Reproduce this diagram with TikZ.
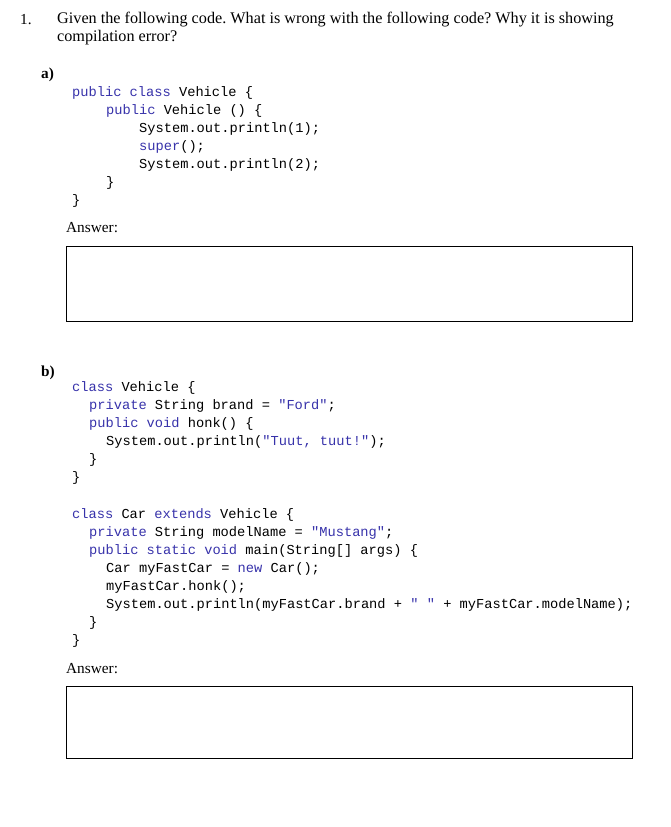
\documentclass[tikz,border=0pt]{standalone}
\usepackage{fontspec}
\setmainfont{Liberation Serif}
\newfontfamily\codefont{Liberation Mono}
\definecolor{kw}{RGB}{55,50,170}
\newcommand\kw[1]{\textcolor{kw}{#1}}
\frenchspacing
\begin{document}
\begin{tikzpicture}[x=1pt,y=-1pt,
  txt/.style={anchor=west,inner sep=0pt,font=\fontsize{16.2}{18}\selectfont},
  sm/.style={anchor=west,inner sep=0pt,font=\fontsize{15.3}{17}\selectfont},
  cd/.style={anchor=west,inner sep=0pt,font=\codefont\fontsize{13.7}{16}\selectfont},
  ans/.style={draw,line width=1pt}]
\useasboundingbox (0,0) rectangle (671,827);
\node[sm] (n1) at (20,20) {1.};
\node[txt] (q1) at (57,20) {Given the following code. What is wrong with the following code? Why it is showing};
\node[txt] (q2) at (57,38) {compilation error?};
\node[sm] (la) at (41,75) {\textbf{a)}};
\node[cd] (a1) at (72,93) {\kw{public class} Vehicle \{};
\node[cd] (a2) at (106,111) {\kw{public} Vehicle () \{};
\node[cd] (a3) at (139,129) {System.out.println(1);};
\node[cd] (a4) at (139,147) {\kw{super}();};
\node[cd] (a5) at (139,165) {System.out.println(2);};
\node[cd] (a6) at (106,183) {\}};
\node[cd] (a7) at (72,201) {\}};
\node[sm] (ansa) at (66,228) {Answer:};
\draw[ans] (66,246) rectangle (632,321);
\node[sm] (lb) at (41,373) {\textbf{b)}};
\node[cd] (b1) at (72,388) {\kw{class} Vehicle \{};
\node[cd] (b2) at (89,406) {\kw{private} String brand = \kw{"Ford"};};
\node[cd] (b3) at (89,424) {\kw{public void} honk() \{};
\node[cd] (b4) at (106,442) {System.out.println(\kw{"Tuut, tuut!"});};
\node[cd] (b5) at (89,460) {\}};
\node[cd] (b6) at (72,478) {\}};
\node[cd] (c1) at (72,515) {\kw{class} Car \kw{extends} Vehicle \{};
\node[cd] (c2) at (89,533) {\kw{private} String modelName = \kw{"Mustang"};};
\node[cd] (c3) at (89,551) {\kw{public static void} main(String[] args) \{};
\node[cd] (c4) at (106,569) {Car myFastCar = \kw{new} Car();};
\node[cd] (c5) at (106,587) {myFastCar.honk();};
\node[cd] (c6) at (106,605) {System.out.println(myFastCar.brand + \kw{" "} + myFastCar.modelName);};
\node[cd] (c7) at (89,623) {\}};
\node[cd] (c8) at (72,641) {\}};
\node[sm] (ansb) at (66,669) {Answer:};
\draw[ans] (66,686) rectangle (632,758);
\end{tikzpicture}
\end{document}
